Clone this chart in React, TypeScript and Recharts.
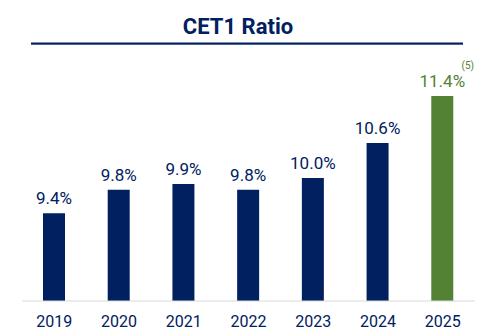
import React from 'react';
import { BarChart, Bar, XAxis, YAxis, Cell, LabelList } from 'recharts';

const years = ['2019', '2020', '2021', '2022', '2023', '2024', '2025'];
const cet1 = [9.4, 9.8, 9.9, 9.8, 10.0, 10.6, 11.4];
const notes = ['', '', '', '', '', '', '(5)'];
const highlighted = [false, false, false, false, false, false, true];

const NAVY = '#002060';
const GREEN = '#548235';
const FONT = 'Roboto, "Noto Sans", sans-serif';

const data = years.map((y, i) => ({ year: y, value: cet1[i], note: notes[i], hl: highlighted[i] }));

const ValueLabel = (props: any) => {
  const { x, y, width, value, index } = props;
  const cx = x + width / 2;
  const color = highlighted[index] ? GREEN : NAVY;
  const note = notes[index];
  return (
    <g>
      <text x={cx} y={y - 9} textAnchor="middle" fontSize={17} fill={color} fontFamily={FONT}>
        {Number(value).toFixed(1)}%
      </text>
      {note ? (
        <text x={cx + 25.5} y={y - 27.5} textAnchor="middle" fontSize={10} fill={color} fontFamily={FONT}>
          {note}
        </text>
      ) : null}
    </g>
  );
};

export default function App() {
  return (
    <div style={{ position: 'absolute', left: 0, top: 0, width: 484, height: 336, background: '#fff' }}>
      <svg width={484} height={336} style={{ position: 'absolute', left: 0, top: 0 }}>
        <text x={238} y={34} textAnchor="middle" fontSize={22} fontWeight="bold" fill={NAVY} fontFamily={FONT}>
          CET1 Ratio
        </text>
        <rect x={31} y={42.5} width={432} height={2.2} fill={NAVY} />
      </svg>
      <div style={{ position: 'absolute', left: 0, top: 0 }}>
        <BarChart width={484} height={336} data={data} margin={{ top: 61, right: 9, bottom: 5, left: 22 }}>
          <XAxis
            dataKey="year"
            tickLine={false}
            axisLine={{ stroke: '#d9d9d9', strokeWidth: 1 }}
            tick={{ fill: NAVY, fontSize: 16, fontFamily: FONT }}
            tickMargin={9}
            interval={0}
          />
          <YAxis hide domain={[7.9, 12]} allowDataOverflow />
          <Bar dataKey="value" barSize={22} isAnimationActive={false}>
            {data.map((d, i) => (
              <Cell key={i} fill={d.hl ? GREEN : NAVY} />
            ))}
            <LabelList dataKey="value" content={ValueLabel} />
          </Bar>
        </BarChart>
      </div>
    </div>
  );
}
